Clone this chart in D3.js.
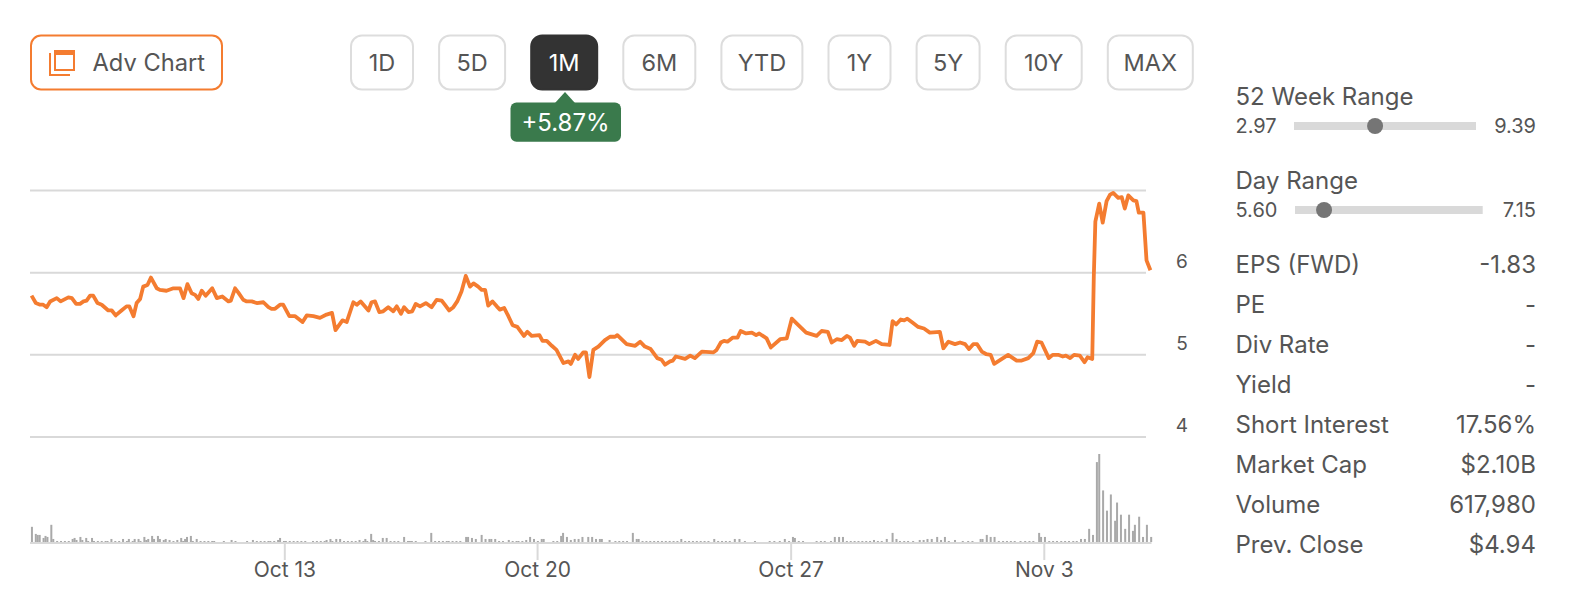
<!DOCTYPE html>
<html>
<head>
<meta charset="utf-8">
<script src="https://cdn.jsdelivr.net/npm/d3@7"></script>
<style>
  html, body { margin: 0; padding: 0; background: #fff; }
  svg { display: block; }
  text { font-family: Inter, "Noto Sans", sans-serif; fill: #555; }
</style>
</head>
<body>
<svg id="chart" width="1576" height="606"></svg>
<script>
// range buttons
const rangeLabels = ["1D", "5D", "1M", "6M", "YTD", "1Y", "5Y", "10Y", "MAX"];
const activeRange = "1M";
const rangeChange = "+5.87%";

// price line: bar number in the month, and price
const priceBars = [0.4,1.5,2.6,3.4,4.3,5.2,6.9,7.9,9.9,10.8,11.9,12.9,13.8,14.6,15.5,16.3,17.4,18.5,20.2,21.1,22.1,23.6,24.9,25.6,26.7,27.5,28.4,29.2,30.3,31.2,32.7,33.5,35.2,37,38.7,39.6,40.6,41.7,42.6,43.4,44.3,45.3,47,48.2,49.6,51.2,51.8,52.9,53.7,55,55.9,57.2,58.5,60.2,61.5,62.3,63.2,64.5,65.3,66.9,68.4,70.3,71.4,73.1,74.8,76.5,77.9,78.8,80.6,81.7,83.4,84.3,85.3,87.3,88.1,89,90.1,91.1,92.4,93.7,94.6,95.7,96.5,97.6,98.6,99.5,100.6,102.1,103.6,104.9,106.2,107,108.1,109.2,110.2,111.3,112.4,113.5,114.4,115.6,116.5,117.4,118.2,119.3,120.4,121.2,122.3,123.4,124.5,125.7,127.4,128.3,129.4,131.4,132.2,133.3,134.6,135.8,137.6,138.9,139.5,140.6,141.4,142.7,143.4,144.3,145.3,146.6,148.3,149.6,150.9,151.5,153.9,156.1,157.4,158.6,160.1,161.8,162.9,163.8,165.1,165.8,166.6,169,170.3,171.5,173.3,176.3,177.1,178.2,179,179.9,181.3,182.5,183.3,184.7,186.2,187.3,188.1,190,191.1,193.5,195.2,196.5,197.8,200.2,202.9,204.2,205.8,206.8,208.1,209.4,210.7,211.5,212.6,213.4,215.4,216.5,218.2,219.7,221.7,222.5,223.4,224.6,225.5,226.3,227.7,229.1,230.6,232.1,234.7,235.6,236.9,238.6,239.9,241.2,242.2,243.3,244.3,245.5,246.6,247.8,248.7,252.3,254.5,255.8,257.5,258.8,259.8,260.9,262.8,263.8,265.2,266.4,267.2,268.3,269.3,270.8,272,272.8,274,274.4,274.8,275.8,276.7,277.7,278.6,279.4,280.7,281.6,282.4,283.3,284.6,285.4,286,287.2,288,289];
const prices = [5.72,5.63,5.61,5.61,5.58,5.65,5.69,5.65,5.70,5.69,5.62,5.62,5.65,5.66,5.72,5.72,5.63,5.61,5.54,5.54,5.48,5.54,5.59,5.59,5.47,5.63,5.68,5.83,5.85,5.94,5.81,5.79,5.78,5.81,5.81,5.69,5.86,5.75,5.73,5.68,5.78,5.72,5.81,5.69,5.71,5.65,5.66,5.81,5.76,5.67,5.65,5.65,5.63,5.64,5.58,5.56,5.56,5.61,5.61,5.47,5.47,5.40,5.48,5.47,5.45,5.49,5.51,5.30,5.42,5.40,5.64,5.61,5.65,5.54,5.64,5.65,5.52,5.53,5.58,5.53,5.59,5.50,5.58,5.52,5.53,5.62,5.59,5.63,5.58,5.67,5.66,5.61,5.54,5.58,5.65,5.77,5.96,5.83,5.87,5.83,5.79,5.79,5.60,5.65,5.59,5.55,5.57,5.47,5.36,5.34,5.23,5.28,5.23,5.24,5.17,5.17,5.11,5.06,4.90,4.92,4.89,5.00,4.95,5.03,5.03,4.73,5.06,5.10,5.18,5.22,5.22,5.24,5.13,5.11,5.16,5.10,5.07,4.96,4.94,4.88,4.92,4.93,4.98,4.95,4.99,4.96,5.04,5.03,5.06,5.15,5.17,5.16,5.21,5.21,5.29,5.26,5.27,5.24,5.26,5.20,5.09,5.19,5.20,5.44,5.38,5.27,5.23,5.29,5.28,5.15,5.19,5.18,5.23,5.21,5.11,5.17,5.16,5.13,5.17,5.13,5.12,5.41,5.37,5.43,5.42,5.44,5.39,5.34,5.32,5.27,5.28,5.08,5.16,5.13,5.15,5.13,5.07,5.13,5.13,5.04,5.01,5.00,4.89,5.00,4.93,4.93,4.96,5.02,5.16,5.15,4.96,5.00,5.00,4.98,4.99,4.96,5.00,4.99,4.91,4.97,4.95,5.95,6.62,6.84,6.61,6.87,6.95,6.97,6.91,6.92,6.78,6.94,6.88,6.87,6.73,6.73,6.15,6.03];

// volume: [bar number, volume in thousands]
const volumeByBar = [
  [0.5,15],[1.5,8],[2,7],[2.5,7],[3.5,4],[4,6],[4.5,5],[5.5,17],[6,3],[7,1],[8,1],[9,1],[10,1],[11,3],[11.5,4],[12,2],[13,5],[13.5,2],[14.5,4],[15,1],[16,4],[16.5,1],[17.5,1],[18.5,1],[19.5,1],[20,1],
  [21,3],[22,1],[23,1],[24,3],[25,1],[25.5,3],[26.5,1],[27,3],[28,3],[28.5,1],[29.5,5],[30,2],[30.5,3],[31.5,6],[32,3],[33,6],[33.5,3],[34.5,2],[35,3],[36,2],[37,1],[38,2],[39,4],[39.5,1],[40,3],[40.5,5],[41.5,6],[42,1],[43,3],[44,1],[45,1],[46,1],[47,1],[47.5,1],
  [50,1],[52,2],[53,1],[56,1],[57.5,2],[58.5,1],[59.5,1],[60.5,1],[61.5,1],[62,1],[63,1],[64,2],[64.5,4],[65.5,1],[66,1],[67,1],[68,1],[69,1],[70,1],[71,1],[73,1],[74,1],[75,1],[76,1],[76.5,2],[77.5,3],[78,1],[79,3],[80,3],[81,1],[82,1],[83,1],[84,1],[85,2],[86,1],[86.5,3],[87,1],[88,8],[88.5,2],[89,1],[90,1],[91,4],[92,4],[93,1],[94,1],[95,1],
  [96.5,5],[97.5,1],[98,1],[98.5,1],[99.5,1],[102,1],[103.5,9],[104.5,1],[105.5,1],[106.5,1],[107.5,1],[108,1],[109,1],[110,1],[111,1],[112.5,5],[113,5],[114,4],[115,3],[116.5,7],[117.5,3],[118.5,3],[119,3],[120,3],[121,1],[122,1],[123.5,2],[124.5,1],[125.5,1],[126,1],[127,1],[128,2],[129,5],[130,3],[131,1],[132,3],[132.5,3],[135,1],[136,1],[137,6],[137.5,9],[138.5,5],[139.5,2],[140.5,3],[141.5,3],[142.5,5],[144,5],[145,5],[146,3],[147,3],[147.5,3],[149.5,2],[151,1],[152,1],[153,1],[154,1],[155.5,9],[156.5,3],[157,3],[158,1],[159,1],[160,1],[161,1],[162,1],[163,1],[164,1],[165,1],[166,1],[167,1],[168,3],[169,1],[170,1],[171,1],[172,1],
  [173,1],[174,1],[175,1],[176.5,3],[177.5,1],[178.5,1],[179.5,1],[180.5,1],[181.8,3],[183,3],[184.4,1],[187,1],[190.8,1],[192,1],[193.4,1],[194.7,3],[195.8,1],[196.8,5],[197.3,4],[198.3,1],[199.4,1],[202.9,1],[204,1],[205,1],[206.6,1],[207.6,5],[208.7,5],[209.7,5],[210.7,1],[211.7,1],[212.7,1],[213.7,1],[214.7,1],[215.7,1],[216.7,1],[217.7,2],[218.7,1],[219.7,1],[221,3],[222.5,9],[223.5,3],[224.4,1],[225.5,1],[226.5,1],[227.8,1],[229.5,2],[230.5,2],[231.5,3],[232.6,3],[234,5],[235,2],[236,5],[237,1],[238.6,2],[240.6,1],[242,1],[243.1,1],
  [245.2,3],[245.7,3],[246.8,7],[247.8,5],[248.8,5],[249.9,1],[251,1],[252,1],[253,1],[254,1],[255.5,1],[256.7,1],[257.8,1],[258.8,1],[260.3,9],[260.8,5],[261.8,5],[262.9,1],[263.9,1],[264.9,1],[266,1],[267,1],[268,1],[269.1,1],[270,1],[271.1,3],[272.1,3],[273.2,13],[274.2,7],[275.2,79],[275.8,87],[276.8,51],[277.8,31],[278.8,47],[279.9,21],[280.4,39],[281.4,27],[282.5,13],[283.5,27],[284.5,11],[285,17],[286.1,25],[287.1,5],[288.1,17],[289.2,5]
];

// axes
const tickBars = [65.6, 130.8, 196.2, 261.5];
const tickDates = ["Oct 13", "Oct 20", "Oct 27", "Nov 3"];
const gridPrices = [4, 5, 6, 7];
const labelPrices = [4, 5, 6];

// side panel
const rangeTitles = ["52 Week Range", "Day Range"];
const rangeLows = [2.97, 5.60];
const rangeHighs = [9.39, 7.15];
const rangeNow = [5.83, 5.84];
const statLabels = ["EPS (FWD)", "PE", "Div Rate", "Yield", "Short Interest", "Market Cap", "Volume", "Prev. Close"];
const statValues = ["-1.83", "-", "-", "-", "17.56%", "$2.10B", "617,980", "$4.94"];

const ORANGE = "#f47c30";
const GRID = "#d9d9d9";
const svg = d3.select("#chart");

// Scales
const x = d3.scaleLinear().domain([0, 289]).range([30, 1150.4]);
const y = d3.scaleLinear().domain([4, 7]).range([437, 190.5]);
const yVol = d3.scaleLinear().domain([0, 87]).range([542, 454]);

// Adv Chart button
svg.append("rect").attr("x", 31).attr("y", 35.5).attr("width", 191).attr("height", 54).attr("rx", 10)
  .attr("fill", "#fff").attr("stroke", ORANGE).attr("stroke-width", 2);
const icon = svg.append("g").attr("fill", "none").attr("stroke", ORANGE);
icon.append("path").attr("d", "M50 53V75H70").attr("stroke-width", 2);
icon.append("rect").attr("x", 55).attr("y", 51).attr("width", 19).attr("height", 19).attr("stroke-width", 2);
icon.append("rect").attr("x", 54).attr("y", 50).attr("width", 21).attr("height", 5).attr("fill", ORANGE).attr("stroke", "none");
svg.append("text").attr("x", 92.5).attr("y", 71).attr("font-size", 23.7).text("Adv Chart");

// Range buttons
const buttonWidths = [64, 68, 68, 74, 83, 64, 65, 78, 87];
let bx = 350;
rangeLabels.forEach((label, i) => {
  const w = buttonWidths[i];
  const active = label === activeRange;
  svg.append("rect").attr("x", bx + 1).attr("y", 35.5).attr("width", w - 2).attr("height", 54).attr("rx", 11)
    .attr("fill", active ? "#333" : "#fff").attr("stroke", active ? "#333" : "#ddd").attr("stroke-width", 2);
  svg.append("text").attr("x", bx + w / 2).attr("y", 71).attr("text-anchor", "middle").attr("font-size", 23.5)
    .style("fill", active ? "#fff" : "#555").text(label);
  bx += w + 24.1;
});

// Change badge under the active button
svg.append("path").attr("d", "M555 103L565 92L575 103Z").attr("fill", "#3a7a4c");
svg.append("rect").attr("x", 510.5).attr("y", 102.5).attr("width", 110.5).attr("height", 39.2).attr("rx", 6).attr("fill", "#3a7a4c");
svg.append("text").attr("x", 565.5).attr("y", 131).attr("text-anchor", "middle").attr("font-size", 24)
  .style("fill", "#fff").text(rangeChange);

// Grid lines
svg.append("g").selectAll("line").data(gridPrices).join("line")
  .attr("x1", 30).attr("x2", 1146)
  .attr("y1", d => y(d)).attr("y2", d => y(d))
  .attr("stroke", GRID).attr("stroke-width", 2);

// Price labels sit just above their grid line
svg.append("g").selectAll("text").data(labelPrices).join("text")
  .attr("x", 1182).attr("y", d => y(d) - 5).attr("text-anchor", "middle").attr("font-size", 19).text(d => d);

// Volume bars
svg.append("g").selectAll("rect").data(volumeByBar).join("rect")
  .attr("x", d => x(d[0]) - 1)
  .attr("y", d => yVol(d[1]))
  .attr("width", 2)
  .attr("height", d => yVol(0) - yVol(d[1]))
  .attr("fill", "#a9a9a9");

// Date axis
const xAxis = d3.axisBottom(x).tickValues(tickBars).tickFormat((d, i) => tickDates[i]).tickSize(17).tickPadding(0);
const axisG = svg.append("g").attr("transform", "translate(0,543)").call(xAxis);
axisG.select(".domain").attr("stroke", GRID).attr("stroke-width", 2).attr("d", "M30,0H1151.5");
axisG.selectAll(".tick line").attr("stroke", GRID).attr("stroke-width", 2);
axisG.selectAll(".tick text").attr("font-size", 21).attr("font-family", "Inter").attr("y", 33.5).attr("dy", 0).style("fill", "#555");

// Price line
const line = d3.line().x((d, i) => x(priceBars[i])).y(d => y(d));
svg.append("path").datum(prices).attr("d", line)
  .attr("fill", "none").attr("stroke", ORANGE).attr("stroke-width", 3.8).attr("stroke-linejoin", "round");

// Range sliders
const trackLefts = [1294, 1295];
const trackRights = [1476, 1482.7];
const sliderTops = [96, 180];
rangeTitles.forEach((title, i) => {
  const top = sliderTops[i];
  svg.append("text").attr("x", 1235.5).attr("y", top + 9).attr("font-size", 24).text(title);
  svg.append("text").attr("x", 1235.5).attr("y", top + 37).attr("font-size", 20).text(rangeLows[i].toFixed(2));
  svg.append("text").attr("x", 1536).attr("y", top + 37).attr("text-anchor", "end").attr("font-size", 20).text(rangeHighs[i].toFixed(2));
  const sx = d3.scaleLinear().domain([rangeLows[i], rangeHighs[i]]).range([trackLefts[i], trackRights[i]]);
  svg.append("rect").attr("x", trackLefts[i]).attr("y", top + 26).attr("width", trackRights[i] - trackLefts[i]).attr("height", 8).attr("fill", "#d9d9d9");
  svg.append("circle").attr("cx", sx(rangeNow[i])).attr("cy", top + 30).attr("r", 8).attr("fill", "#757575");
});

// Stats table
const statY = d3.scalePoint().domain(statLabels).range([273, 552.5]);
statLabels.forEach((label, i) => {
  svg.append("text").attr("x", 1235.5).attr("y", statY(label)).attr("font-size", 24).text(label);
  svg.append("text").attr("x", 1536).attr("y", statY(label)).attr("text-anchor", "end").attr("font-size", 24).text(statValues[i]);
});
</script>
</body>
</html>
